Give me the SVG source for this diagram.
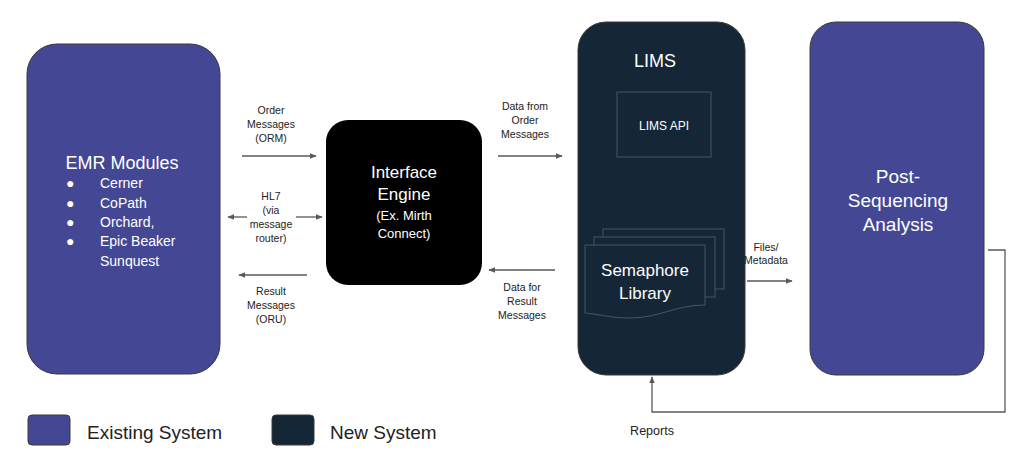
<svg xmlns="http://www.w3.org/2000/svg" width="1024" height="466" viewBox="0 0 1024 466">
<defs>
<marker id="ah" viewBox="0 0 10 10" refX="9" refY="5" markerWidth="7" markerHeight="7" markerUnits="userSpaceOnUse" orient="auto-start-reverse"><path d="M0,1 L10,5 L0,9 z" fill="#595959"/></marker>
<style>
text{font-family:"Liberation Sans",Arial,sans-serif}
.lbl{font-size:10.5px;fill:#222;text-anchor:middle}
.w{fill:#fff}
.ex{fill:#444894;stroke:#3a3a3a;stroke-width:1}
.nw{fill:#152636;stroke:#3a3a3a;stroke-width:1}
.c{stroke:#595959;stroke-width:1.3;fill:none;marker-end:url(#ah)}
</style>
</defs>
<rect width="1024" height="466" fill="#fff"/>
<g id="emr">
<rect class="ex" x="27" y="44" width="193" height="330" rx="30"/>
<text class="w" x="122" y="169" font-size="18" text-anchor="middle">EMR Modules</text>
<g class="w" font-size="14">
<text x="66" y="188">●</text><text x="100" y="188">Cerner</text>
<text x="66" y="208">●</text><text x="100" y="208">CoPath</text>
<text x="66" y="227">●</text><text x="100" y="227">Orchard,</text>
<text x="66" y="246">●</text><text x="100" y="246">Epic Beaker</text>
<text x="100" y="266">Sunquest</text>
</g>
</g>
<g id="engine">
<rect x="326" y="120" width="156" height="165" rx="22" fill="#000"/>
<text class="w" x="404" y="178" font-size="17" text-anchor="middle">Interface</text>
<text class="w" x="404" y="200" font-size="17" text-anchor="middle">Engine</text>
<text class="w" x="404" y="220" font-size="13" text-anchor="middle">(Ex. Mirth</text>
<text class="w" x="404" y="238" font-size="13" text-anchor="middle">Connect)</text>
</g>
<g id="lims">
<rect class="nw" x="578" y="22" width="167" height="353" rx="28"/>
<text class="w" x="655" y="67" font-size="18" text-anchor="middle">LIMS</text>
<g id="limsapi"><rect x="617" y="92" width="94" height="65" fill="none" stroke="#4a5560"/>
<text class="w" x="664" y="130" font-size="12" text-anchor="middle">LIMS API</text></g>
<g id="semaphore" fill="#152636" stroke="#4a5560">
<rect x="603" y="229" width="121" height="60"/>
<rect x="594" y="237" width="121" height="60"/>
<path d="M585,245 H705 V305 C675,305 660,318 630,318 C610,318 598,314 585,313 Z"/>
<text class="w" x="645" y="276" font-size="17" text-anchor="middle" stroke="none">Semaphore</text>
<text class="w" x="645" y="299" font-size="17" text-anchor="middle" stroke="none">Library</text>
</g>
</g>
<g id="post">
<rect class="ex" x="810" y="22" width="174" height="353" rx="26"/>
<text class="w" x="898" y="183" font-size="19" text-anchor="middle">Post-</text>
<text class="w" x="898" y="207" font-size="19" text-anchor="middle">Sequencing</text>
<text class="w" x="898" y="231" font-size="19" text-anchor="middle">Analysis</text>
</g>
<g id="connectors">
<line class="c" x1="242" y1="156" x2="316" y2="156"/>
<line class="c" x1="247" y1="217" x2="228" y2="217"/>
<line class="c" x1="296" y1="217" x2="322" y2="217"/>
<line class="c" x1="307" y1="275" x2="239" y2="275"/>
<line class="c" x1="498" y1="156" x2="562" y2="156"/>
<line class="c" x1="555" y1="270" x2="489" y2="270"/>
<line class="c" x1="747" y1="281" x2="792" y2="281"/>
<polyline class="c" points="988,250 1005,250 1005,412 652,412 652,377"/>
</g>
<g id="labels">
<text class="lbl" x="271" y="114">Order</text><text class="lbl" x="271" y="128">Messages</text><text class="lbl" x="271" y="142">(ORM)</text>
<text class="lbl" x="271" y="200">HL7</text><text class="lbl" x="271" y="214">(via</text><text class="lbl" x="271" y="228">message</text><text class="lbl" x="271" y="242">router)</text>
<text class="lbl" x="271" y="295">Result</text><text class="lbl" x="271" y="309">Messages</text><text class="lbl" x="271" y="323">(ORU)</text>
<text class="lbl" x="525" y="110">Data from</text><text class="lbl" x="525" y="124">Order</text><text class="lbl" x="525" y="138">Messages</text>
<text class="lbl" x="522" y="291">Data for</text><text class="lbl" x="522" y="305">Result</text><text class="lbl" x="522" y="319">Messages</text>
<text class="lbl" x="766" y="251">Files/</text><text class="lbl" x="766" y="264">Metadata</text>
<text class="lbl" x="652" y="435" style="font-size:12.5px">Reports</text>
</g>
<g id="legend">
<rect class="ex" x="28" y="415" width="42" height="30" rx="4"/>
<text x="87" y="439" font-size="19" fill="#222">Existing System</text>
<rect class="nw" x="272" y="415" width="42" height="30" rx="4"/>
<text x="330" y="439" font-size="19" fill="#222">New System</text>
</g>
</svg>
